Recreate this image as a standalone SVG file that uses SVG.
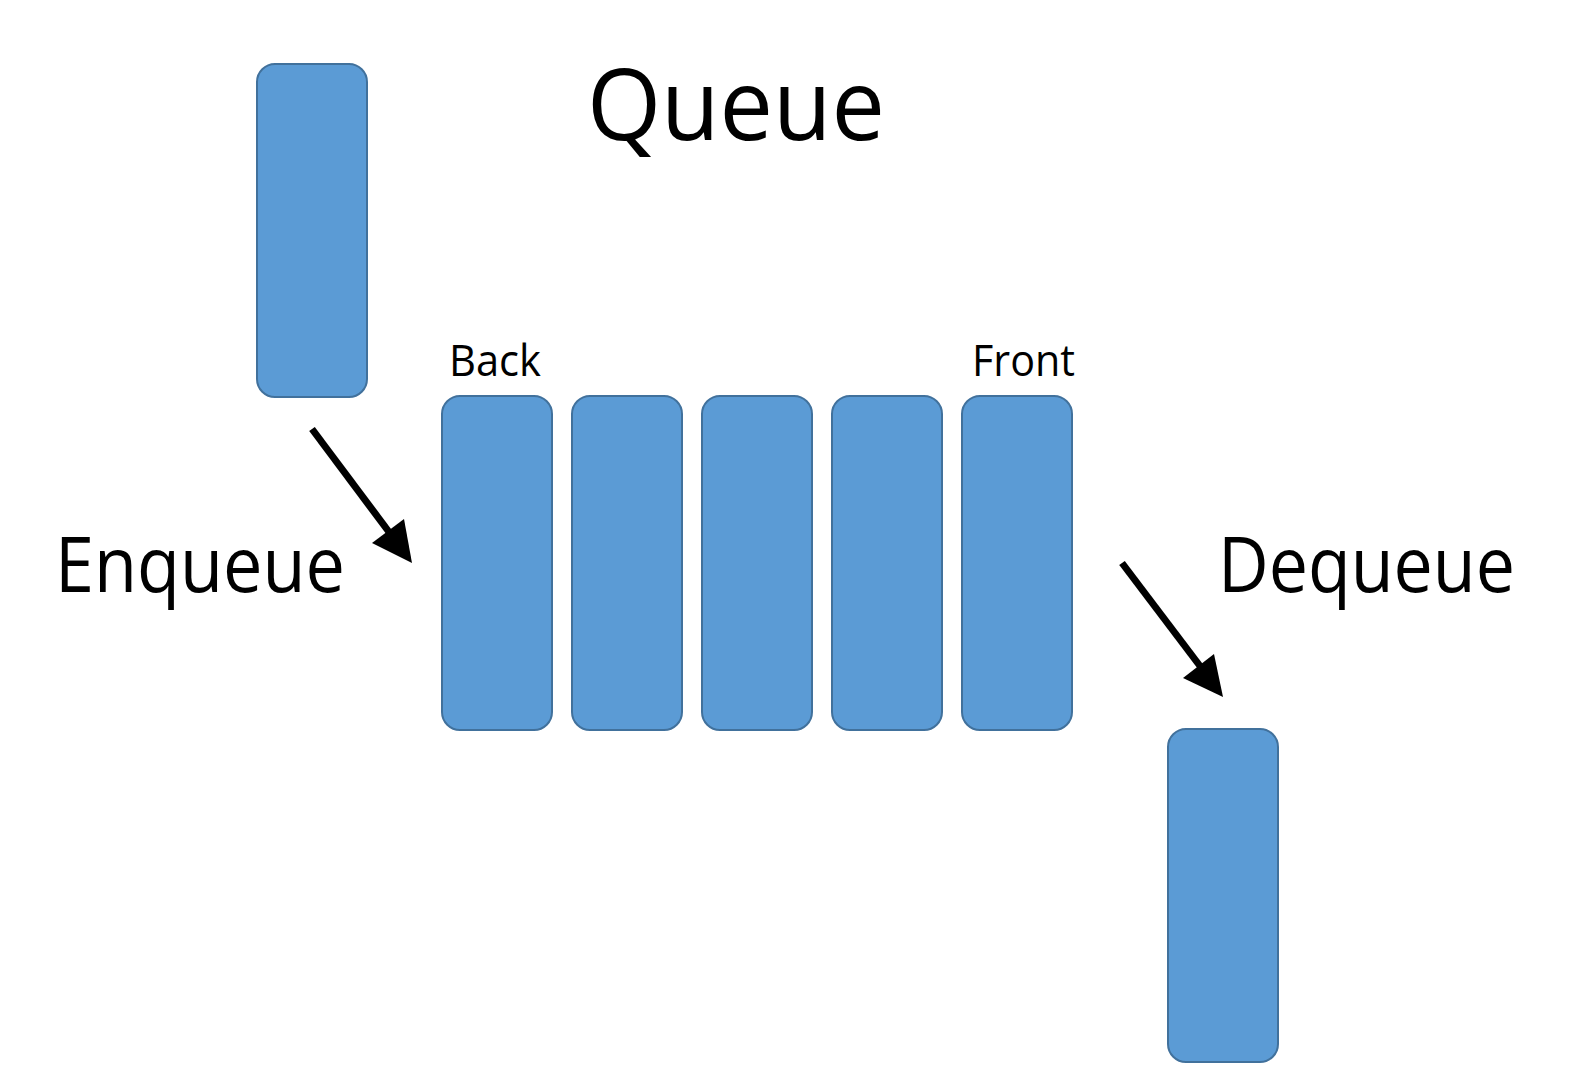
<svg xmlns="http://www.w3.org/2000/svg" width="1574" height="1067" viewBox="0 0 1574 1067">
<style>
.box{fill:#5B9BD5;stroke:#41719C;stroke-width:2}
.t{font-family:"Open Sans","Noto Sans",sans-serif;fill:#000}
.arr{stroke:#000;stroke-width:7;fill:none}
</style>
<rect width="1574" height="1067" fill="#fff"/>
<text class="t" x="587" y="140" font-size="98" textLength="298" lengthAdjust="spacingAndGlyphs">Queue</text>
<g id="incoming"><rect class="box" x="257" y="64" width="110" height="333" rx="18"/></g>
<text class="t" x="449" y="376" font-size="44" textLength="92" lengthAdjust="spacingAndGlyphs">Back</text>
<text class="t" x="972" y="376" font-size="44" textLength="103" lengthAdjust="spacingAndGlyphs">Front</text>
<g id="q1"><rect class="box" x="442" y="396" width="110" height="334" rx="18"/></g>
<g id="q2"><rect class="box" x="572" y="396" width="110" height="334" rx="18"/></g>
<g id="q3"><rect class="box" x="702" y="396" width="110" height="334" rx="18"/></g>
<g id="q4"><rect class="box" x="832" y="396" width="110" height="334" rx="18"/></g>
<g id="q5"><rect class="box" x="962" y="396" width="110" height="334" rx="18"/></g>
<g id="outgoing"><rect class="box" x="1168" y="729" width="110" height="333" rx="18"/></g>
<text class="t" x="55" y="592" font-size="76" textLength="290" lengthAdjust="spacingAndGlyphs">Enqueue</text>
<text class="t" x="1218" y="592" font-size="76" textLength="297" lengthAdjust="spacingAndGlyphs">Dequeue</text>
<g id="connectors">
<line class="arr" x1="312" y1="429" x2="392" y2="536"/>
<polygon points="412,563 372,543 404,519" fill="#000"/>
<line class="arr" x1="1122" y1="563" x2="1203" y2="670"/>
<polygon points="1223,697 1183,678 1214,654" fill="#000"/>
</g>
</svg>
